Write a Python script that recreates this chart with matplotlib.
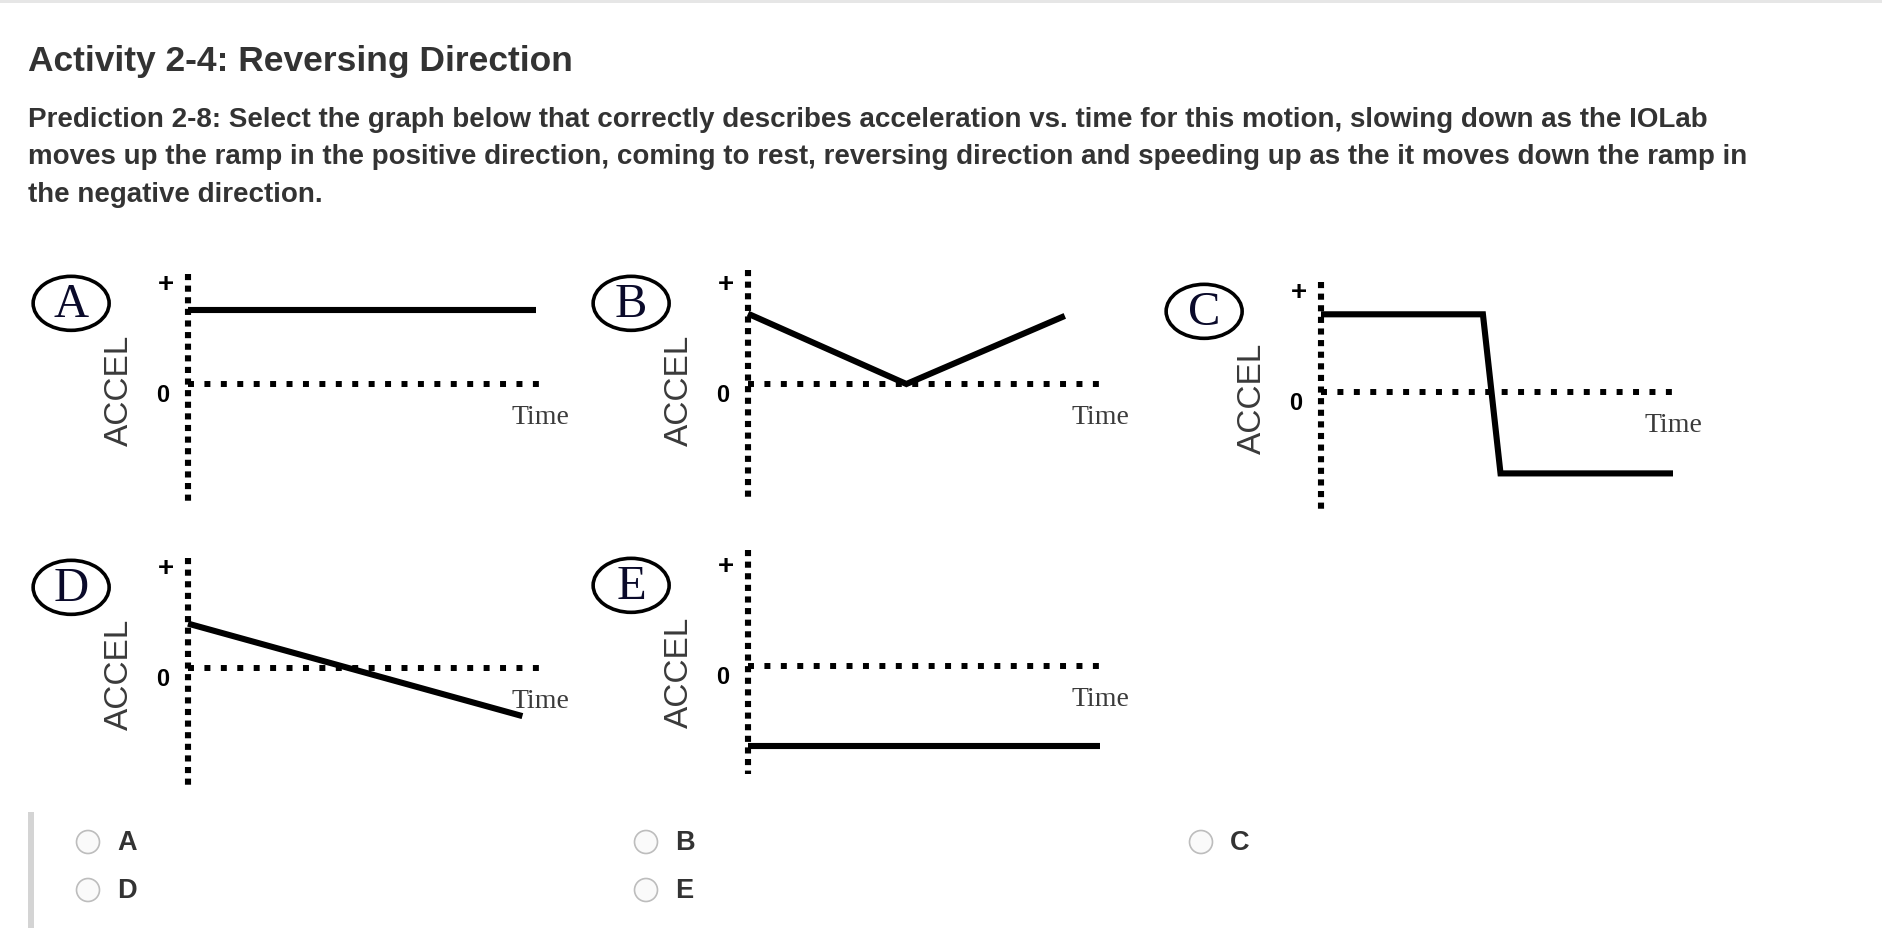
import matplotlib
matplotlib.use("Agg")
import matplotlib.pyplot as plt
from matplotlib.patches import Ellipse, Circle, Rectangle

# ---- text ----
title = "Activity 2-4: Reversing Direction"
question = [
    "Prediction 2-8: Select the graph below that correctly describes acceleration vs. time for this motion, slowing down as the IOLab",
    "moves up the ramp in the positive direction, coming to rest, reversing direction and speeding up as the it moves down the ramp in",
    "the negative direction.",
]

# ---- graph data (time, acceleration) ----
panel_names = ["A", "B", "C", "D", "E"]
time_A = [0, 0.99]
accel_A = [1.0, 1.0]
time_B = [0, 0.45, 0.90]
accel_B = [0.95, 0.0, 0.92]
time_C = [0, 0.46, 0.51, 1.0]
accel_C = [1.05, 1.05, -1.1, -1.1]
time_D = [0, 0.95]
accel_D = [0.6, -0.65]
time_E = [0, 1.0]
accel_E = [-1.08, -1.08]
# extent of the dotted accel axis (top, bottom)
axis_top = [1.49, 1.54, 1.49, 1.49, 1.57]
axis_bottom = [-1.6, -1.53, -1.6, -1.6, -1.46]
time_end = [1.0, 1.0, 1.0, 1.0, 1.0]

choices = ["A", "B", "C", "D", "E"]

W, H = 1882, 944
SX, SY = 352.0, 74.0  # px per time unit / accel unit
XL, XR, YB, YT = -0.4, 1.2, -1.8, 1.8

fig = plt.figure(figsize=(W / 100, H / 100), dpi=100)
fig.patch.set_facecolor("white")

# page layer in pixel coords
bg = fig.add_axes([0, 0, 1, 1])
bg.set_xlim(0, W)
bg.set_ylim(H, 0)
bg.axis("off")

sans = ["Liberation Sans", "DejaVu Sans"]
serif = ["Liberation Serif", "DejaVu Serif"]
dark = "#333333"

bg.add_patch(Rectangle((0, 0), W, 3, color="#e6e6e6", lw=0))
bg.text(28, 61, title, family=sans, weight="bold", fontsize=25.5, color=dark, va="center")
for i, line in enumerate(question):
    bg.text(28, 120 + i * 37.5, line, family=sans, weight="bold", fontsize=20, color=dark, va="center")

origins = [(188, 384), (748, 384), (1321, 392), (188, 668), (748, 666)]
times = [time_A, time_B, time_C, time_D, time_E]
accels = [accel_A, accel_B, accel_C, accel_D, accel_E]

for k, name in enumerate(panel_names):
    ox, oy = origins[k]
    left = (ox + XL * SX) / W
    bottom = (H - (oy + YT * SY)) / H
    ax = fig.add_axes([left, bottom, (XR - XL) * SX / W, (YT - YB) * SY / H])
    ax.set_xlim(XL, XR)
    ax.set_ylim(YB, YT)
    ax.axis("off")

    # dotted axes
    ax.plot([0, 0], [axis_top[k], axis_bottom[k]], color="black", lw=4.4,
            dashes=(1, 0.9), dash_capstyle="butt")
    ax.plot([0, time_end[k]], [0, 0], color="black", lw=4.3,
            dashes=(1, 1.75), dash_capstyle="butt")
    # the acceleration curve
    ax.plot(times[k], accels[k], color="black", lw=4.4, solid_joinstyle="miter",
            solid_capstyle="butt")

    ax.text(-0.0625, 1.34, "+", family=sans, weight="bold", fontsize=20, ha="center", va="center")
    ax.text(-0.071, -0.15, "0", family=sans, weight="bold", fontsize=17, ha="center", va="center")
    ax.text(-0.196, -0.09, "ACCEL", family=sans, fontsize=24, rotation=90, color="#3a3a3a",
            ha="center", va="center")
    ax.text(1.0, -0.45, "Time", family=serif, fontsize=20, color="#3a3a3a", ha="center", va="center")
    ax.add_patch(Ellipse((-0.332, 1.09), 76 / SX, 54 / SY, fill=False, ec="black", lw=2.6,
                         clip_on=False))
    ax.text(-0.332, 1.07, name, family=serif, fontsize=35, ha="center", va="center",
            color="#0a0a2a", clip_on=False)

# answer choices
bg.add_patch(Rectangle((28, 812), 6, 116, color="#d4d4d4", lw=0))
radio_pos = [(88, 842), (646, 842), (1201, 842), (88, 890), (646, 890)]
for c, (rx, ry) in zip(choices, radio_pos):
    bg.add_patch(Circle((rx, ry), 11.5, fc="#fafafa", ec="#bdbdbd", lw=1.2))
    bg.text(rx + 29, ry + 1, c, family=sans, weight="bold", fontsize=19.5, color=dark, va="center")

fig.savefig("out.png", dpi=100)
